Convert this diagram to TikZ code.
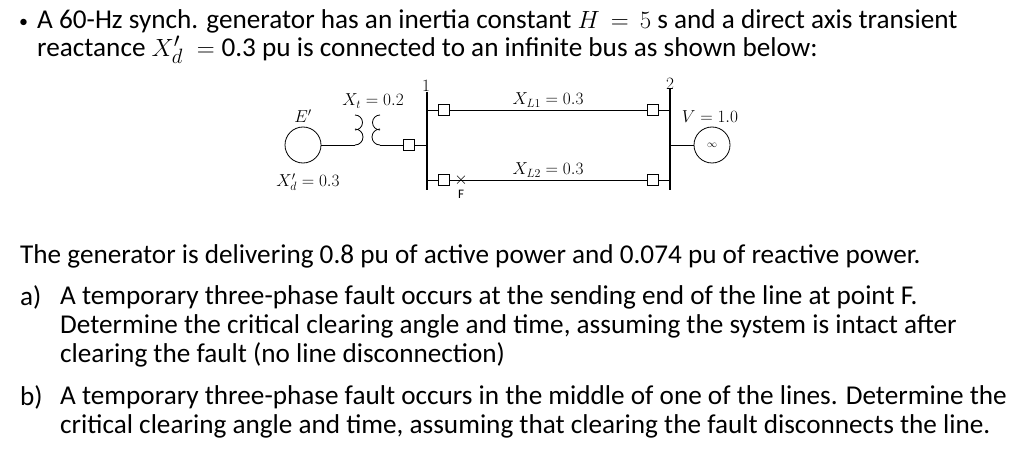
\documentclass[tikz,border=0pt]{standalone}
\usepackage{fontspec}
\setmainfont{Carlito}
\begin{document}
\begin{tikzpicture}[x=1pt,y=-1pt,
  txt/.style={anchor=west,inner sep=0pt,font=\fontsize{27.2}{30}\selectfont},
  lbl/.style={inner sep=0pt,font=\fontsize{16.5}{18}\selectfont},
  brk/.style={draw,fill=white,minimum size=11pt,inner sep=0pt},
  ln/.style={line width=0.8pt}]
\useasboundingbox (0,0) rectangle (1024,473);
% text
\node[txt,font=\fontsize{18}{20}\selectfont] (b0) at (19,23) {\textbullet};
\node[txt] (t1) at (37,21) {A 60-Hz synch. generator has an inertia constant $H\,=\,5$ s and a direct axis transient};
\node[txt] (t2) at (37,50) {reactance $X_d'\;=\;$0.3 pu is connected to an infinite bus as shown below:};
\node[txt] (t3) at (20,256) {The generator is delivering 0.8 pu of active power and 0.074 pu of reactive power.};
\node[txt] (a) at (20,297) {a)};
\node[txt] (a1) at (60,297) {A temporary three-phase fault occurs at the sending end of the line at point F.};
\node[txt] (a2) at (60,326) {Determine the critical clearing angle and time, assuming the system is intact after};
\node[txt] (a3) at (60,355) {clearing the fault (no line disconnection)};
\node[txt] (b) at (20,397) {b)};
\node[txt] (b1) at (60,397) {A temporary three-phase fault occurs in the middle of one of the lines. Determine the};
\node[txt] (b2) at (60,426) {critical clearing angle and time, assuming that clearing the fault disconnects the line.};
% diagram
\node[draw,ln,circle,minimum size=36pt,inner sep=0pt] (g) at (303,145) {};
\coordinate (t0) at (355,145);
\coordinate (t3r) at (380,145);
\draw[ln] (g.east) -- (t0);
\draw[ln] (355,130) arc[start angle=90,end angle=-90,radius=7.5];
\draw[ln] (355,145) arc[start angle=90,end angle=-90,radius=8];
\draw[ln] (380,130) arc[start angle=90,end angle=270,radius=7.5];
\draw[ln] (380,145) arc[start angle=90,end angle=270,radius=8];
\coordinate (b1t) at (427,92); \coordinate (b1b) at (427,190);
\coordinate (b2t) at (670,89); \coordinate (b2b) at (670,190);
\draw[line width=1.2pt] (b1t) -- (b1b);
\draw[line width=1.2pt] (b2t) -- (b2b);
\coordinate (b1m) at (427,145);
\draw[ln] (t3r) -- (b1m);
\node[brk] (k0) at (409,145) {};
\coordinate (b1u) at (427,110); \coordinate (b2u) at (670,110);
\coordinate (b1l) at (427,180); \coordinate (b2l) at (670,180);
\draw[ln] (b1u) -- (b2u);
\draw[ln] (b1l) -- (b2l);
\node[brk] (k1) at (444,110) {};
\node[brk] (k2) at (653,110) {};
\node[brk] (k3) at (444,180) {};
\node[brk] (k4) at (653,180) {};
\node[lbl] (fx) at (461,180) {$\times$};
\node[lbl,font=\fontsize{13}{14}\selectfont] (F) at (461,194) {F};
\coordinate (b2m) at (670,145);
\node[draw,ln,circle,minimum size=36pt,inner sep=0pt] (inf) at (712,145) {$\infty$};
\draw[ln] (b2m) -- (inf.west);
\node[lbl] (n1) at (426,86) {$1$};
\node[lbl] (n2) at (670,84) {$2$};
\node[lbl] (xt) at (373,101) {$X_t=0.2$};
\node[lbl] (ep) at (303,116) {$E'$};
\node[lbl] (xd) at (308,182) {$X'_d=0.3$};
\node[lbl] (xl1) at (548,100) {$X_{L1}=0.3$};
\node[lbl] (xl2) at (548,170) {$X_{L2}=0.3$};
\node[lbl] (v) at (710,117) {$V=1.0$};
\end{tikzpicture}
\end{document}
